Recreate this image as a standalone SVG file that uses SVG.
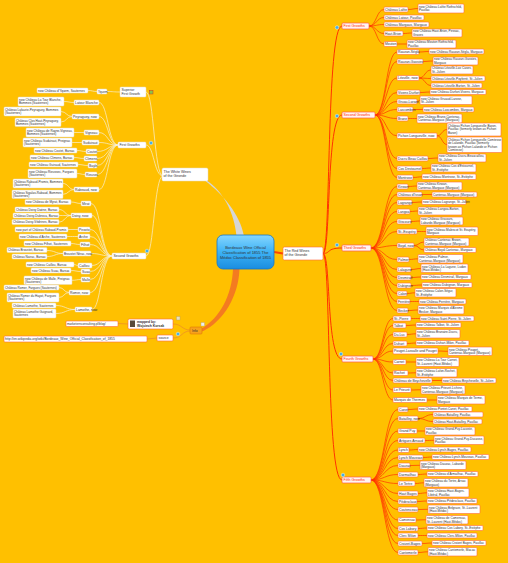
<svg xmlns="http://www.w3.org/2000/svg" width="508" height="563" viewBox="0 0 508 563">
<defs>
<linearGradient id="gb" x1="0" y1="0" x2="0" y2="1"><stop offset="0" stop-color="#86d6ff"/><stop offset="0.5" stop-color="#3db2f5"/><stop offset="1" stop-color="#1a8de0"/></linearGradient>
<style>
text{font-family:"Liberation Sans",Arial,sans-serif;fill:#333}
.ri{fill:#fff;stroke:#ff6a3d;stroke-width:.6}
.rk{fill:#fff5f3;stroke:#ff5a4a;stroke-width:.7}
.wi{fill:#fff;stroke:#e4d8bd;stroke-width:.5}
.ti{font-size:3.4px}
.tc{font-size:3.1px}
.tk{font-size:3.6px;fill:#ff2a00}
.tw{font-size:3.6px}
.cr{fill:none;stroke:#ff3300;stroke-width:.7}
.ct{fill:none;stroke:#ff3300;stroke-width:1}
.cw{fill:none;stroke:#f8efd6;stroke-width:.7}
.co{fill:none;stroke:#f39a1e;stroke-width:1}
.dot{fill:#45b0ea;stroke:#fff;stroke-width:.4}
</style>
</defs>
<rect width="508" height="563" fill="#ffc000"/>

<g id="connectors">
<path d="M236.5,236 C234.5,214 224,191 205,179.5 L206,181.5 C222,193.5 240,214 244,236 Z" fill="#d6d6d6"/>
<path d="M233,269 C232,295 220,318 201,329 L202.5,331.5 C224,321 238.5,296 239.5,269 Z" fill="#f47b20"/>
<path d="M274,252 L283,253.5" fill="none" stroke="#ff4500" stroke-width="2"/>
<path class="co" d="M190,330 C182,330 182,324 173,324"/>
<path class="co" d="M190,331 C182,331 182,338 173,338"/>
<path class="co" d="M157,338 L147,339"/>
<path class="co" d="M128,324 L118,323.5"/>
<path class="ct" d="M323,253.5 C331,253.5 326,26 342,26"/>
<path class="ct" d="M323,253.5 C331,253.5 326,115 342,115"/>
<path class="ct" d="M323,253.5 C331,253.5 326,248 342,248"/>
<path class="ct" d="M323,253.5 C331,253.5 326,359 342,359"/>
<path class="ct" d="M323,253.5 C331,253.5 326,480 342,480"/>
<path class="cr" d="M369,26 C376.5,26 376.5,9.5 384,9.5 M369,26 C376.5,26 376.5,17.5 384,17.5 M369,26 C376.5,26 376.5,24.5 384,24.5 M369,26 C376.5,26 376.5,33.5 384,33.5 M369,26 C376.5,26 376.5,44 384,44"/>
<path class="cr" d="M408,9.5 C413,9.5 413,8.5 418,8.5 M403,33.5 C407.5,33.5 407.5,33 412,33 M397,44 C402,44 402,44 407,44"/>
<path class="cr" d="M375,115 C386,115 386,52 397,52 M375,115 C386,115 386,61.5 397,61.5 M375,115 C386,115 386,78 397,78 M375,115 C386,115 386,92.5 397,92.5 M375,115 C386,115 386,101.5 397,101.5 M375,115 C386,115 386,109.5 397,109.5 M375,115 C386,115 386,118.5 397,118.5 M375,115 C386,115 386,135.8 397,135.8 M375,115 C386,115 386,158.5 397,158.5 M375,115 C386,115 386,168.5 397,168.5 M375,115 C386,115 386,177.5 397,177.5"/>
<path class="cr" d="M419,52 C424,52 424,51.5 429,51.5 M423,61.5 C428,61.5 428,61 433,61 M419,78 C425,78 425,70 431,70 M419,78 C425,78 425,78.5 431,78.5 M419,78 C425,78 425,85.5 431,85.5 M420,92.5 C425,92.5 425,92 430,92 M417,101.5 C418.5,101.5 418.5,100.3 420,100.3 M413,109.5 C418,109.5 418,109.5 423,109.5 M408,118.5 C412.5,118.5 412.5,118.5 417,118.5 M437,135.8 C442,135.8 442,129.5 447,129.5 M437,135.8 C442,135.8 442,144.5 447,144.5 M428,158.5 C433,158.5 433,158 438,158 M422,168.5 C426.5,168.5 426.5,168 431,168 M413,177.5 C417.5,177.5 417.5,176.8 422,176.8"/>
<path class="cr" d="M371,248 C384,248 384,186.5 397,186.5 M371,248 C384,248 384,194.5 397,194.5 M371,248 C384,248 384,202.5 397,202.5 M371,248 C384,248 384,211.5 397,211.5 M371,248 C384,248 384,221.5 397,221.5 M371,248 C384,248 384,231.5 397,231.5 M371,248 C384,248 384,245.5 397,245.5 M371,248 C384,248 384,259.5 397,259.5 M371,248 C384,248 384,269.5 397,269.5 M371,248 C384,248 384,277.5 397,277.5 M371,248 C384,248 384,285.5 397,285.5 M371,248 C384,248 384,293.5 397,293.5 M371,248 C384,248 384,301.5 397,301.5 M371,248 C384,248 384,310.5 397,310.5"/>
<path class="cr" d="M408,186.5 C412.5,186.5 412.5,186 417,186 M422,194.5 C427,194.5 427,194.5 432,194.5 M412,202.5 C417,202.5 417,202 422,202 M410,211.5 C414,211.5 414,211 418,211 M411,221.5 C415.5,221.5 415.5,221 420,221 M417,231.5 C421.5,231.5 421.5,231.5 426,231.5 M414,245.5 C419,245.5 419,242 424,242 M414,245.5 C419,245.5 419,250 424,250 M409,259.5 C413.5,259.5 413.5,258.8 418,258.8 M411,269.5 C416,269.5 416,268.5 421,268.5 M411,277.5 C416,277.5 416,277 421,277 M411,285.5 C416.5,285.5 416.5,285 422,285 M407,293.5 C411,293.5 411,292.8 415,292.8 M410,301.5 C414.5,301.5 414.5,301.5 419,301.5 M408,310.5 C413,310.5 413,310 418,310"/>
<path class="cr" d="M373,359 C383,359 383,318.5 393,318.5 M373,359 C383,359 383,325.5 393,325.5 M373,359 C383,359 383,334.5 393,334.5 M373,359 C383,359 383,343.5 393,343.5 M373,359 C383,359 383,351 393,351 M373,359 C383,359 383,362 393,362 M373,359 C383,359 383,373 393,373 M373,359 C383,359 383,380.5 393,380.5 M373,359 C383,359 383,390 393,390 M373,359 C383,359 383,400 393,400"/>
<path class="cr" d="M411,318.5 C415.5,318.5 415.5,318.5 420,318.5 M406,325.5 C411,325.5 411,325 416,325 M407,334.5 C411.5,334.5 411.5,333.8 416,333.8 M407,343.5 C411.5,343.5 411.5,343 416,343 M438,351 C443,351 443,351.3 448,351.3 M406,362 C411,362 411,362 416,362 M408,373 C412,373 412,372.8 416,372.8 M432,380.5 C437,380.5 437,380.5 442,380.5 M411,390 C416,390 416,389.8 421,389.8 M427,400 C432,400 432,400 437,400"/>
<path class="cr" d="M371,480 C384.5,480 384.5,409.5 398,409.5 M371,480 C384.5,480 384.5,418.5 398,418.5 M371,480 C384.5,480 384.5,431 398,431 M371,480 C384.5,480 384.5,440.5 398,440.5 M371,480 C384.5,480 384.5,450 398,450 M371,480 C384.5,480 384.5,457.5 398,457.5 M371,480 C384.5,480 384.5,465.5 398,465.5 M371,480 C384.5,480 384.5,474.5 398,474.5 M371,480 C384.5,480 384.5,483.5 398,483.5 M371,480 C384.5,480 384.5,493.5 398,493.5 M371,480 C384.5,480 384.5,501.5 398,501.5 M371,480 C384.5,480 384.5,509.5 398,509.5 M371,480 C384.5,480 384.5,520 398,520 M371,480 C384.5,480 384.5,528.5 398,528.5 M371,480 C384.5,480 384.5,535.5 398,535.5 M371,480 C384.5,480 384.5,543.5 398,543.5 M371,480 C384.5,480 384.5,552.5 398,552.5"/>
<path class="cr" d="M408,409.5 C413,409.5 413,409 418,409 M418,418.5 C425.5,418.5 425.5,414.5 433,414.5 M418,418.5 C425.5,418.5 425.5,421.5 433,421.5 M417,431 C421,431 421,431 425,431 M425,440.5 C429.5,440.5 429.5,440.3 434,440.3 M409,450 C413.5,450 413.5,449.5 418,449.5 M423,457.5 C427.5,457.5 427.5,457 432,457 M410,465.5 C415,465.5 415,465.3 420,465.3 M418,474.5 C422.5,474.5 422.5,474 427,474 M415,483.5 C419.5,483.5 419.5,482.8 424,482.8 M418,493.5 C422.5,493.5 422.5,492.8 427,492.8 M417,501.5 C422,501.5 422,501 427,501 M418,509.5 C423,509.5 423,509.3 428,509.3 M416,520 C421,520 421,519.8 426,519.8 M418,528.5 C422.5,528.5 422.5,528 427,528 M418,535.5 C422.5,535.5 422.5,535.5 427,535.5 M422,543.5 C427,543.5 427,543 432,543 M418,552.5 C423,552.5 423,551.8 428,551.8"/>
<path class="cw" d="M163,176 C154,176 154,92 146,92 M163,176 C154,176 154,145 146,145 M163,176 C154,176 154,256 146,256"/>
<path class="cw" d="M120,92 C113.5,92 113.5,91.5 107,91.5 M97,91.5 C92.5,91.5 92.5,90.5 88,90.5"/>
<path class="cw" d="M118,145 C108,145 108,102.5 99,102.5 M118,145 C108,145 108,116.5 99,116.5 M118,145 C108,145 108,132.5 99,132.5 M118,145 C108,145 108,142.5 99,142.5 M118,145 C108,145 108,151.5 97,151.5 M118,145 C108,145 108,158.5 97,158.5 M118,145 C108,145 108,165.5 97,165.5 M118,145 C108,145 108,174.5 97,174.5 M118,145 C108,145 108,189.5 99,189.5"/>
<path class="cw" d="M74,102.5 C69,102.5 69,101.5 64,101.5 M72,116.5 C66.5,116.5 66.5,111.5 61,111.5 M72,116.5 C66.5,116.5 66.5,122 61,122 M84,132.5 C79,132.5 79,132.5 74,132.5 M82,142.5 C77,142.5 77,142.5 72,142.5 M86,151.5 C81.5,151.5 81.5,150.5 77,150.5 M84,158.5 C79,158.5 79,157.5 74,157.5 M88,165.5 C83,165.5 83,164.5 78,164.5 M85,174.5 C81,174.5 81,173.5 77,173.5 M74,189.5 C68.5,189.5 68.5,183.5 63,183.5 M74,189.5 C68.5,189.5 68.5,194.3 63,194.3"/>
<path class="cw" d="M112,256 C101,256 101,203.5 91,203.5 M112,256 C101,256 101,215.5 92,215.5 M112,256 C101,256 101,229.5 90,229.5 M112,256 C101,256 101,236.5 90,236.5 M112,256 C101,256 101,244.5 90,244.5 M112,256 C101,256 101,253.5 91,253.5 M112,256 C101,256 101,265.5 92,265.5 M112,256 C101,256 101,271.5 90,271.5 M112,256 C101,256 101,279.5 90,279.5 M112,256 C101,256 101,292.5 90,292.5 M112,256 C101,256 101,309.5 92,309.5"/>
<path class="cw" d="M81,203.5 C76,203.5 76,202 71,202 M71,215.5 C65,215.5 65,209.5 59,209.5 M71,215.5 C65,215.5 65,215.5 59,215.5 M71,215.5 C65,215.5 65,222 59,222 M78,229.5 C73,229.5 73,229.5 68,229.5 M78,236.5 C72.5,236.5 72.5,236.5 67,236.5 M80,244.5 C75.5,244.5 75.5,243.5 71,243.5 M63,253.5 C55,253.5 55,250.5 47,250.5 M63,253.5 C55,253.5 55,256.5 47,256.5 M78,265.5 C76,265.5 76,264.5 74,264.5 M81,271.5 C76,271.5 76,270.5 71,270.5 M81,279.5 C76.5,279.5 76.5,280.3 72,280.3 M69,292.5 C64,292.5 64,287.5 59,287.5 M69,292.5 C64,292.5 64,297.5 59,297.5 M75,309.5 C65.5,309.5 65.5,305.5 56,305.5 M75,309.5 C65.5,309.5 65.5,313.5 56,313.5"/>
</g>

<g id="root"><rect x="217" y="235" width="57" height="34" rx="6" fill="url(#gb)" stroke="#1577c8" stroke-width=".8"/>
<text x="245.5" y="249" font-size="4" text-anchor="middle">Bordeaux Wine Official<tspan x="245.5" dy="5">Classification of 1855 The</tspan><tspan x="245.5" dy="5">Médoc Classification of 1855</tspan></text></g>
<g id="red"><rect class="ri" x="283" y="247" width="40" height="13" rx="1.5" stroke-width=".8"/><text class="tw" x="284.5" y="252">The Red Wines<tspan x="284.5" dy="4.3">of the Gironde</tspan></text></g>
<g id="white"><rect class="wi" x="162" y="168" width="46" height="13" rx="1.5"/><text class="tw" x="163.5" y="173">The White Wines<tspan x="163.5" dy="4.3">of the Gironde</tspan></text></g>

<g id="info"><rect x="190" y="327" width="12" height="7" rx="1" fill="#f7a21b" stroke="#e07b00" stroke-width=".6"/><text x="192" y="331.8" font-size="3.4">Info</text>
<rect x="201" y="322.5" width="3.5" height="3.5" fill="#eee" stroke="#b9a26a" stroke-width=".4"/></g>
<g id="mapped"><rect class="ri" x="128" y="319" width="45" height="10" rx="1.5"/><rect x="130" y="320.5" width="5" height="6.5" fill="#5a4a3a"/>
<text x="137" y="323.3" font-size="3.4" font-weight="bold">mapped by:<tspan x="137" dy="4">Wojciech Korsak</tspan></text>
<rect x="176.5" y="316.5" width="3.5" height="3.5" fill="#e8e0c0" stroke="#b9a26a" stroke-width=".4"/></g>
<g id="link"><rect class="ri" x="66" y="321" width="52" height="5.5" rx="1"/><text class="tc" x="67" y="324.8">marketernconsulting.pl/blog/</text></g>
<g id="source"><rect class="ri" x="157" y="335" width="16" height="6" rx="1"/><text class="ti" x="158.5" y="339.2">source</text><circle class="dot" cx="178" cy="334" r="1.8"/></g>
<g id="url"><rect class="ri" x="4" y="336" width="143" height="6" rx="1"/><text x="5" y="340.2" font-size="3.3">http://en.wikipedia.org/wiki/Bordeaux_Wine_Official_Classification_of_1855</text></g>

<g id="r1"><rect class="rk" x="342" y="23" width="27" height="6" rx="1"/><text class="tk" x="343.5" y="27.3">First Growths</text><circle class="dot" cx="337" cy="27.5" r="1.8"/></g>
<g id="r2"><rect class="rk" x="342" y="112" width="33" height="6" rx="1"/><text class="tk" x="343.5" y="116.3">Second Growths</text><circle class="dot" cx="337" cy="116" r="1.8"/></g>
<g id="r3"><rect class="rk" x="342" y="245" width="29" height="6" rx="1"/><text class="tk" x="343.5" y="249.3">Third Growths</text><circle class="dot" cx="337" cy="245" r="1.8"/></g>
<g id="r4"><rect class="rk" x="342" y="356" width="31" height="6" rx="1"/><text class="tk" x="343.5" y="360.3">Fourth Growths</text><circle class="dot" cx="341" cy="354" r="1.8"/></g>
<g id="r5"><rect class="rk" x="342" y="477" width="29" height="6" rx="1"/><text class="tk" x="343.5" y="481.3">Fifth Growths</text><circle class="dot" cx="343" cy="475" r="1.8"/></g>

<g id="r1a"><rect class="ri" x="384" y="7" width="24" height="5" rx="1"/><text class="ti" x="385" y="10.7">Château Lafite</text></g>
<g id="r1a1"><rect class="ri" x="418" y="4" width="46" height="9" rx="1"/><text class="tc" x="419" y="7.6">now Château Lafite Rothschild,<tspan x="419" dy="3.6">Pauillac</tspan></text></g>
<g id="r1b"><rect class="ri" x="384" y="15" width="40" height="5" rx="1"/><text class="ti" x="385" y="18.7">Château Latour, Pauillac</text></g>
<g id="r1c"><rect class="ri" x="384" y="22" width="45" height="5" rx="1"/><text class="ti" x="385" y="25.7">Château Margaux, Margaux</text></g>
<g id="r1d"><rect class="ri" x="384" y="31" width="19" height="5" rx="1"/><text class="ti" x="385" y="34.7">Haut-Brion</text></g>
<g id="r1d1"><rect class="ri" x="412" y="29" width="50" height="8" rx="1"/><text class="tc" x="413" y="32.4">now Château Haut-Brion, Pessac,<tspan x="413" dy="3.6">Graves</tspan></text></g>
<g id="r1e"><rect class="ri" x="384" y="41.5" width="13" height="5" rx="1"/><text class="ti" x="385" y="45.2">Mouton</text></g>
<g id="r1e1"><rect class="ri" x="407" y="40" width="49" height="8" rx="1"/><text class="tc" x="408" y="43.4">now Château Mouton Rothschild,<tspan x="408" dy="3.6">Pauillac</tspan></text></g>

<g id="r2a"><rect class="ri" x="397" y="49.5" width="22" height="5" rx="1"/><text class="ti" x="398" y="53.2">Rauzan-Ségla</text></g>
<g id="r2a1"><rect class="ri" x="429" y="49" width="55" height="5" rx="1"/><text class="tc" x="430" y="52.5">now Château Rauzan-Ségla, Margaux</text></g>
<g id="r2b"><rect class="ri" x="397" y="59" width="26" height="5" rx="1"/><text class="ti" x="398" y="62.7">Rauzan-Gassies</text></g>
<g id="r2b1"><rect class="ri" x="433" y="57" width="45" height="8" rx="1"/><text class="tc" x="434" y="60.4">now Château Rauzan-Gassies,<tspan x="434" dy="3.6">Margaux</tspan></text></g>
<g id="r2c"><rect class="ri" x="397" y="75.5" width="22" height="5" rx="1"/><text class="ti" x="398" y="79.2">Léoville, now</text></g>
<g id="r2c1"><rect class="ri" x="431" y="66" width="42" height="8" rx="1"/><text class="tc" x="432" y="69.4">Château Léoville-Las Cases,<tspan x="432" dy="3.6">St.-Julien</tspan></text></g>
<g id="r2c2"><rect class="ri" x="431" y="76" width="54" height="5" rx="1"/><text class="tc" x="432" y="79.5">Château Léoville-Poyferré, St.-Julien</text></g>
<g id="r2c3"><rect class="ri" x="431" y="83" width="51" height="5" rx="1"/><text class="tc" x="432" y="86.5">Château Léoville-Barton, St.-Julien</text></g>
<g id="r2d"><rect class="ri" x="397" y="90" width="23" height="5" rx="1"/><text class="ti" x="398" y="93.7">Vivens Durfort</text></g>
<g id="r2d1"><rect class="ri" x="430" y="89.5" width="56" height="5" rx="1"/><text class="tc" x="431" y="93">now Château Durfort-Vivens, Margaux</text></g>
<g id="r2e"><rect class="ri" x="397" y="99" width="20" height="5" rx="1"/><text class="ti" x="398" y="102.7">Gruau-Laroze</text></g>
<g id="r2e1"><rect class="ri" x="420" y="96" width="52" height="8.5" rx="1"/><text class="tc" x="421" y="99.5">now Château Gruaud-Larose,<tspan x="421" dy="3.6">St.-Julien</tspan></text></g>
<g id="r2f"><rect class="ri" x="397" y="107" width="16" height="5" rx="1"/><text class="ti" x="398" y="110.7">Lascombes</text></g>
<g id="r2f1"><rect class="ri" x="423" y="107" width="51" height="5" rx="1"/><text class="tc" x="424" y="110.5">now Château Lascombes, Margaux</text></g>
<g id="r2g"><rect class="ri" x="397" y="116" width="11" height="5" rx="1"/><text class="ti" x="398" y="119.7">Brane</text></g>
<g id="r2g1"><rect class="ri" x="417" y="114" width="45" height="9" rx="1"/><text class="tc" x="418" y="117.6">now Château Brane-Cantenac,<tspan x="418" dy="3.6">Cantenac-Margaux (Margaux)</tspan></text></g>
<g id="r2h"><rect class="ri" x="397" y="133" width="40" height="5.5" rx="1"/><text class="ti" x="398" y="137">Pichon Longueville, now</text></g>
<g id="r2h1"><rect class="ri" x="447" y="123" width="54" height="13" rx="1"/><text class="tc" x="448" y="126.6">Château Pichon Longueville Baron,<tspan x="448" dy="3.6">Pauillac (formerly known as Pichon</tspan><tspan x="448" dy="3.6">Baron)</tspan></text></g>
<g id="r2h2"><rect class="ri" x="447" y="137" width="55" height="15.5" rx="1"/><text class="tc" x="448" y="140.6">Château Pichon Longueville Comtesse<tspan x="448" dy="3.6">de Lalande, Pauillac (formerly</tspan><tspan x="448" dy="3.6">known as Pichon Lalande or Pichon</tspan><tspan x="448" dy="3.6">Comtesse)</tspan></text></g>
<g id="r2i"><rect class="ri" x="397" y="156" width="31" height="5" rx="1"/><text class="ti" x="398" y="159.7">Ducru Beau Caillou</text></g>
<g id="r2i1"><rect class="ri" x="438" y="154" width="48" height="8" rx="1"/><text class="tc" x="439" y="157.4">now Château Ducru-Beaucaillou,<tspan x="439" dy="3.6">St.-Julien</tspan></text></g>
<g id="r2j"><rect class="ri" x="397" y="166" width="25" height="5" rx="1"/><text class="ti" x="398" y="169.7">Cos Destournel</text></g>
<g id="r2j1"><rect class="ri" x="431" y="164" width="45" height="8" rx="1"/><text class="tc" x="432" y="167.4">now Château Cos d'Estournel,<tspan x="432" dy="3.6">St.-Estèphe</tspan></text></g>
<g id="r2k"><rect class="ri" x="397" y="175" width="16" height="5" rx="1"/><text class="ti" x="398" y="178.7">Montrose</text></g>
<g id="r2k1"><rect class="ri" x="422" y="174" width="54" height="5.5" rx="1"/><text class="tc" x="423" y="177.7">now Château Montrose, St.-Estèphe</text></g>

<g id="r3a"><rect class="ri" x="397" y="184" width="11" height="5" rx="1"/><text class="ti" x="398" y="187.7">Kirwan</text></g>
<g id="r3a1"><rect class="ri" x="417" y="182" width="45" height="8" rx="1"/><text class="tc" x="418" y="185.4">now Château Kirwan,<tspan x="418" dy="3.6">Cantenac-Margaux (Margaux)</tspan></text></g>
<g id="r3b"><rect class="ri" x="397" y="192" width="25" height="5" rx="1"/><text class="ti" x="398" y="195.7">Château d'Issan</text></g>
<g id="r3b1"><rect class="ri" x="432" y="192" width="45" height="5" rx="1"/><text class="tc" x="433" y="195.5">Cantenac-Margaux (Margaux)</text></g>
<g id="r3c"><rect class="ri" x="397" y="200" width="15" height="5" rx="1"/><text class="ti" x="398" y="203.7">Lagrange</text></g>
<g id="r3c1"><rect class="ri" x="422" y="199.5" width="44" height="5" rx="1"/><text class="tc" x="423" y="203">now Château Lagrange, St.-Julien</text></g>
<g id="r3d"><rect class="ri" x="397" y="209" width="13" height="5" rx="1"/><text class="ti" x="398" y="212.7">Langoa</text></g>
<g id="r3d1"><rect class="ri" x="418" y="207" width="44" height="8" rx="1"/><text class="tc" x="419" y="210.4">now Château Langoa-Barton,<tspan x="419" dy="3.6">St.-Julien</tspan></text></g>
<g id="r3e"><rect class="ri" x="397" y="219" width="14" height="5" rx="1"/><text class="ti" x="398" y="222.7">Giscours</text></g>
<g id="r3e1"><rect class="ri" x="420" y="217" width="43" height="8" rx="1"/><text class="tc" x="421" y="220.4">now Château Giscours,<tspan x="421" dy="3.6">Labarde-Margaux (Margaux)</tspan></text></g>
<g id="r3f"><rect class="ri" x="397" y="229" width="20" height="5" rx="1"/><text class="ti" x="398" y="232.7">St.-Exupéry</text></g>
<g id="r3f1"><rect class="ri" x="426" y="227" width="52" height="8.5" rx="1"/><text class="tc" x="427" y="230.5">now Château Malescot St. Exupéry,<tspan x="427" dy="3.6">Margaux</tspan></text></g>
<g id="r3g"><rect class="ri" x="397" y="243" width="17" height="5" rx="1"/><text class="ti" x="398" y="246.7">Boyd, now</text></g>
<g id="r3g1"><rect class="ri" x="424" y="238" width="45" height="8" rx="1"/><text class="tc" x="425" y="241.4">Château Cantenac Brown,<tspan x="425" dy="3.6">Cantenac-Margaux (Margaux)</tspan></text></g>
<g id="r3g2"><rect class="ri" x="424" y="247.5" width="52" height="5" rx="1"/><text class="tc" x="425" y="251">Château Boyd-Cantenac, Margaux</text></g>
<g id="r3h"><rect class="ri" x="397" y="257" width="12" height="5" rx="1"/><text class="ti" x="398" y="260.7">Palmer</text></g>
<g id="r3h1"><rect class="ri" x="418" y="254.5" width="45" height="8.5" rx="1"/><text class="tc" x="419" y="258">now Château Palmer,<tspan x="419" dy="3.6">Cantenac-Margaux (Margaux)</tspan></text></g>
<g id="r3i"><rect class="ri" x="397" y="267" width="14" height="5" rx="1"/><text class="ti" x="398" y="270.7">Lalagune</text></g>
<g id="r3i1"><rect class="ri" x="421" y="264" width="47" height="8.5" rx="1"/><text class="tc" x="422" y="267.5">now Château La Lagune, Ludon<tspan x="422" dy="3.6">(Haut-Médoc)</tspan></text></g>
<g id="r3j"><rect class="ri" x="397" y="275" width="14" height="5" rx="1"/><text class="ti" x="398" y="278.7">Desmirail</text></g>
<g id="r3j1"><rect class="ri" x="421" y="274.5" width="50" height="5" rx="1"/><text class="tc" x="422" y="278">now Château Desmirail, Margaux</text></g>
<g id="r3k"><rect class="ri" x="397" y="283" width="14" height="5" rx="1"/><text class="ti" x="398" y="286.7">Dubignon</text></g>
<g id="r3k1"><rect class="ri" x="422" y="282.5" width="50" height="5" rx="1"/><text class="tc" x="423" y="286">now Château Dubignon, Margaux</text></g>
<g id="r3l"><rect class="ri" x="397" y="291" width="10" height="5" rx="1"/><text class="ti" x="398" y="294.7">Calon</text></g>
<g id="r3l1"><rect class="ri" x="415" y="288.5" width="41" height="8.5" rx="1"/><text class="tc" x="416" y="292">now Château Calon-Ségur,<tspan x="416" dy="3.6">St.-Estèphe</tspan></text></g>
<g id="r3m"><rect class="ri" x="397" y="299" width="13" height="5" rx="1"/><text class="ti" x="398" y="302.7">Ferrière</text></g>
<g id="r3m1"><rect class="ri" x="419" y="299" width="47" height="5" rx="1"/><text class="tc" x="420" y="302.5">now Château Ferrière, Margaux</text></g>
<g id="r3n"><rect class="ri" x="397" y="308" width="11" height="5" rx="1"/><text class="ti" x="398" y="311.7">Becker</text></g>
<g id="r3n1"><rect class="ri" x="418" y="305.5" width="46" height="8.5" rx="1"/><text class="tc" x="419" y="309">now Château Marquis d'Alesme<tspan x="419" dy="3.6">Becker, Margaux</tspan></text></g>

<g id="r4a"><rect class="ri" x="393" y="316" width="18" height="5" rx="1"/><text class="ti" x="394" y="319.7">St.-Pierre</text></g>
<g id="r4a1"><rect class="ri" x="420" y="316" width="54" height="5" rx="1"/><text class="tc" x="421" y="319.5">now Château Saint-Pierre, St.-Julien</text></g>
<g id="r4b"><rect class="ri" x="393" y="323" width="13" height="5" rx="1"/><text class="ti" x="394" y="326.7">Talbot</text></g>
<g id="r4b1"><rect class="ri" x="416" y="322.5" width="45" height="5" rx="1"/><text class="tc" x="417" y="326">now Château Talbot, St.-Julien</text></g>
<g id="r4c"><rect class="ri" x="393" y="332" width="14" height="5" rx="1"/><text class="ti" x="394" y="335.7">Du-Luc</text></g>
<g id="r4c1"><rect class="ri" x="416" y="329.5" width="44" height="8.5" rx="1"/><text class="tc" x="417" y="333">now Château Branaire-Ducru,<tspan x="417" dy="3.6">St.-Julien</tspan></text></g>
<g id="r4d"><rect class="ri" x="393" y="341" width="14" height="5" rx="1"/><text class="ti" x="394" y="344.7">Duhart</text></g>
<g id="r4d1"><rect class="ri" x="416" y="340.5" width="53" height="5" rx="1"/><text class="tc" x="417" y="344">now Château Duhart-Milon, Pauillac</text></g>
<g id="r4e"><rect class="ri" x="393" y="348" width="45" height="6" rx="1"/><text class="ti" x="394" y="352.2">Pouget-Lassalle and Pouget</text></g>
<g id="r4e1"><rect class="ri" x="448" y="347" width="44" height="8.5" rx="1"/><text class="tc" x="449" y="350.5">now Château Pouget,<tspan x="449" dy="3.6">Cantenac-Margaux (Margaux)</tspan></text></g>
<g id="r4f"><rect class="ri" x="393" y="359.5" width="13" height="5" rx="1"/><text class="ti" x="394" y="363.2">Carnet</text></g>
<g id="r4f1"><rect class="ri" x="416" y="357.5" width="43" height="9" rx="1"/><text class="tc" x="417" y="361.1">now Château La Tour Carnet,<tspan x="417" dy="3.6">St.-Laurent (Haut-Médoc)</tspan></text></g>
<g id="r4g"><rect class="ri" x="393" y="370.5" width="15" height="5" rx="1"/><text class="ti" x="394" y="374.2">Rochet</text></g>
<g id="r4g1"><rect class="ri" x="416" y="368.5" width="41" height="8.5" rx="1"/><text class="tc" x="417" y="372">now Château Lafon-Rochet,<tspan x="417" dy="3.6">St.-Estèphe</tspan></text></g>
<g id="r4h"><rect class="ri" x="393" y="378" width="39" height="5" rx="1"/><text class="ti" x="394" y="381.7">Château de Beychevelle</text></g>
<g id="r4h1"><rect class="ri" x="442" y="378" width="54" height="5" rx="1"/><text class="tc" x="443" y="381.5">now Château Beychevelle, St.-Julien</text></g>
<g id="r4i"><rect class="ri" x="393" y="387.5" width="18" height="5" rx="1"/><text class="ti" x="394" y="391.2">Le Prieuré</text></g>
<g id="r4i1"><rect class="ri" x="421" y="385.5" width="44" height="8.5" rx="1"/><text class="tc" x="422" y="389">now Château Prieuré-Lichine,<tspan x="422" dy="3.6">Cantenac-Margaux (Margaux)</tspan></text></g>
<g id="r4j"><rect class="ri" x="393" y="397.5" width="34" height="5" rx="1"/><text class="ti" x="394" y="401.2">Marquis de Thermes</text></g>
<g id="r4j1"><rect class="ri" x="437" y="395.5" width="48" height="8.5" rx="1"/><text class="tc" x="438" y="399">now Château Marquis de Terme,<tspan x="438" dy="3.6">Margaux</tspan></text></g>

<g id="r5a"><rect class="ri" x="398" y="407" width="10" height="5" rx="1"/><text class="ti" x="399" y="410.7">Canet</text></g>
<g id="r5a1"><rect class="ri" x="418" y="406.5" width="54" height="5" rx="1"/><text class="tc" x="419" y="410">now Château Pontet-Canet, Pauillac</text></g>
<g id="r5b"><rect class="ri" x="398" y="416" width="20" height="5" rx="1"/><text class="ti" x="399" y="419.7">Batailley, now</text></g>
<g id="r5b1"><rect class="ri" x="433" y="412" width="50" height="5" rx="1"/><text class="tc" x="434" y="415.5">Château Batailley, Pauillac</text></g>
<g id="r5b2"><rect class="ri" x="433" y="419" width="49" height="5" rx="1"/><text class="tc" x="434" y="422.5">Château Haut-Batailley, Pauillac</text></g>
<g id="r5c"><rect class="ri" x="398" y="428.5" width="19" height="5" rx="1"/><text class="ti" x="399" y="432.2">Grand Puy</text></g>
<g id="r5c1"><rect class="ri" x="425" y="427" width="50" height="8" rx="1"/><text class="tc" x="426" y="430.4">now Château Grand-Puy-Lacoste,<tspan x="426" dy="3.6">Pauillac</tspan></text></g>
<g id="r5d"><rect class="ri" x="398" y="438" width="27" height="5" rx="1"/><text class="ti" x="399" y="441.7">Artigues Arnaud</text></g>
<g id="r5d1"><rect class="ri" x="434" y="436" width="50" height="8.5" rx="1"/><text class="tc" x="435" y="439.5">now Château Grand-Puy-Ducasse,<tspan x="435" dy="3.6">Pauillac</tspan></text></g>
<g id="r5e"><rect class="ri" x="398" y="447.5" width="11" height="5" rx="1"/><text class="ti" x="399" y="451.2">Lynch</text></g>
<g id="r5e1"><rect class="ri" x="418" y="447" width="53" height="5" rx="1"/><text class="tc" x="419" y="450.5">now Château Lynch-Bages, Pauillac</text></g>
<g id="r5f"><rect class="ri" x="398" y="455" width="25" height="5" rx="1"/><text class="ti" x="399" y="458.7">Lynch Moussas</text></g>
<g id="r5f1"><rect class="ri" x="432" y="454.5" width="57" height="5" rx="1"/><text class="tc" x="433" y="458">now Château Lynch-Moussas, Pauillac</text></g>
<g id="r5g"><rect class="ri" x="398" y="463" width="12" height="5" rx="1"/><text class="ti" x="399" y="466.7">Dauzac</text></g>
<g id="r5g1"><rect class="ri" x="420" y="461" width="46" height="8.5" rx="1"/><text class="tc" x="421" y="464.5">now Château Dauzac, Labarde<tspan x="421" dy="3.6">(Margaux)</tspan></text></g>
<g id="r5h"><rect class="ri" x="398" y="472" width="20" height="5" rx="1"/><text class="ti" x="399" y="475.7">Darmailhac</text></g>
<g id="r5h1"><rect class="ri" x="427" y="471.5" width="51" height="5" rx="1"/><text class="tc" x="428" y="475">now Château d'Armailhac, Pauillac</text></g>
<g id="r5i"><rect class="ri" x="398" y="481" width="17" height="5" rx="1"/><text class="ti" x="399" y="484.7">Le Tertre</text></g>
<g id="r5i1"><rect class="ri" x="424" y="478.5" width="44" height="8.5" rx="1"/><text class="tc" x="425" y="482">now Château du Tertre, Arsac<tspan x="425" dy="3.6">(Margaux)</tspan></text></g>
<g id="r5j"><rect class="ri" x="398" y="491" width="20" height="5" rx="1"/><text class="ti" x="399" y="494.7">Haut Bages</text></g>
<g id="r5j1"><rect class="ri" x="427" y="488.5" width="42" height="8.5" rx="1"/><text class="tc" x="428" y="492">now Château Haut-Bages-<tspan x="428" dy="3.6">Libéral, Pauillac</tspan></text></g>
<g id="r5k"><rect class="ri" x="398" y="499" width="19" height="5" rx="1"/><text class="ti" x="399" y="502.7">Pédesclaux</text></g>
<g id="r5k1"><rect class="ri" x="427" y="498.5" width="50" height="5" rx="1"/><text class="tc" x="428" y="502">now Château Pédesclaux, Pauillac</text></g>
<g id="r5l"><rect class="ri" x="398" y="507" width="20" height="5" rx="1"/><text class="ti" x="399" y="510.7">Coutenceau</text></g>
<g id="r5l1"><rect class="ri" x="428" y="505" width="52" height="8.5" rx="1"/><text class="tc" x="429" y="508.5">now Château Belgrave, St.-Laurent<tspan x="429" dy="3.6">(Haut-Médoc)</tspan></text></g>
<g id="r5m"><rect class="ri" x="398" y="517.5" width="18" height="5" rx="1"/><text class="ti" x="399" y="521.2">Camensac</text></g>
<g id="r5m1"><rect class="ri" x="426" y="515.5" width="42" height="8.5" rx="1"/><text class="tc" x="427" y="519">now Château de Camensac,<tspan x="427" dy="3.6">St.-Laurent (Haut-Médoc)</tspan></text></g>
<g id="r5n"><rect class="ri" x="398" y="526" width="20" height="5" rx="1"/><text class="ti" x="399" y="529.7">Cos Labory</text></g>
<g id="r5n1"><rect class="ri" x="427" y="525.5" width="56" height="5" rx="1"/><text class="tc" x="428" y="529">now Château Cos Labory, St.-Estèphe</text></g>
<g id="r5o"><rect class="ri" x="398" y="533" width="20" height="5" rx="1"/><text class="ti" x="399" y="536.7">Clerc Milon</text></g>
<g id="r5o1"><rect class="ri" x="427" y="533" width="50" height="5" rx="1"/><text class="tc" x="428" y="536.5">now Château Clerc-Milon, Pauillac</text></g>
<g id="r5p"><rect class="ri" x="398" y="541" width="24" height="5" rx="1"/><text class="ti" x="399" y="544.7">Croizet-Bages</text></g>
<g id="r5p1"><rect class="ri" x="432" y="540.5" width="54" height="5" rx="1"/><text class="tc" x="433" y="544">now Château Croizet Bages, Pauillac</text></g>
<g id="r5q"><rect class="ri" x="398" y="550" width="20" height="5" rx="1"/><text class="ti" x="399" y="553.7">Cantemerle</text></g>
<g id="r5q1"><rect class="ri" x="428" y="547.5" width="49" height="8.5" rx="1"/><text class="tc" x="429" y="551">now Château Cantemerle, Macau<tspan x="429" dy="3.6">(Haut-Médoc)</tspan></text></g>

<g id="w0"><rect class="wi" x="120" y="87" width="26" height="10" rx="1"/><text class="ti" x="121.5" y="91">Superior<tspan x="121.5" dy="4">First Growth</tspan></text>
<rect x="149.5" y="90.5" width="3.5" height="3.5" fill="#8bc34a" stroke="#c0392b" stroke-width=".5"/></g>
<g id="w1"><rect class="wi" x="118" y="142" width="28" height="6" rx="1"/><text class="ti" x="119.5" y="146.2">First Growths</text><circle class="dot" cx="151" cy="143" r="1.8"/></g>
<g id="w2"><rect class="wi" x="112" y="253" width="34" height="6" rx="1"/><text class="ti" x="113.5" y="257.2">Second Growths</text><circle class="dot" cx="147" cy="251" r="1.8"/></g>

<g id="w0a"><rect class="wi" x="97" y="89" width="10" height="5" rx="1"/><text class="tc" x="98" y="92.5">Yquem</text></g>
<g id="w0a1"><rect class="wi" x="37" y="88" width="51" height="5" rx="1"/><text class="tc" x="38" y="91.5">now Château d'Yquem, Sauternes</text></g>

<g id="w1a"><rect class="wi" x="74" y="100" width="25" height="5" rx="1"/><text class="ti" x="75" y="103.7">Latour Blanche</text></g>
<g id="w1a1"><rect class="wi" x="18" y="97" width="46" height="9" rx="1"/><text class="tc" x="19" y="100.6">now Château La Tour Blanche,<tspan x="19" dy="3.6">Bommes (Sauternes)</tspan></text></g>
<g id="w1b"><rect class="wi" x="72" y="114" width="27" height="5" rx="1"/><text class="ti" x="73" y="117.7">Peyraguey, now</text></g>
<g id="w1b1"><rect class="wi" x="4" y="107" width="57" height="9" rx="1"/><text class="tc" x="5" y="110.6">Château Lafaurie-Peyraguey, Bommes<tspan x="5" dy="3.6">(Sauternes)</tspan></text></g>
<g id="w1b2"><rect class="wi" x="15" y="118" width="46" height="8.5" rx="1"/><text class="tc" x="16" y="121.5">Château Clos Haut-Peyraguey,<tspan x="16" dy="3.6">Bommes (Sauternes)</tspan></text></g>
<g id="w1c"><rect class="wi" x="84" y="130" width="15" height="5" rx="1"/><text class="ti" x="85" y="133.7">Vigneau</text></g>
<g id="w1c1"><rect class="wi" x="26" y="128" width="48" height="9" rx="1"/><text class="tc" x="27" y="131.6">now Château de Rayne-Vigneau,<tspan x="27" dy="3.6">Bommes (Sauternes)</tspan></text></g>
<g id="w1d"><rect class="wi" x="82" y="140" width="17" height="5" rx="1"/><text class="ti" x="83" y="143.7">Suduiraut</text></g>
<g id="w1d1"><rect class="wi" x="23" y="138" width="49" height="9" rx="1"/><text class="tc" x="24" y="141.6">now Château Suduiraut, Preignac<tspan x="24" dy="3.6">(Sauternes)</tspan></text></g>
<g id="w1e"><rect class="wi" x="86" y="149" width="11" height="5" rx="1"/><text class="ti" x="87" y="152.7">Coutet</text></g>
<g id="w1e1"><rect class="wi" x="34" y="148" width="43" height="5" rx="1"/><text class="tc" x="35" y="151.5">now Château Coutet, Barsac</text></g>
<g id="w1f"><rect class="wi" x="84" y="156" width="13" height="5" rx="1"/><text class="ti" x="85" y="159.7">Climens</text></g>
<g id="w1f1"><rect class="wi" x="30" y="155" width="44" height="5" rx="1"/><text class="tc" x="31" y="158.5">now Château Climens, Barsac</text></g>
<g id="w1g"><rect class="wi" x="88" y="163" width="9" height="5" rx="1"/><text class="ti" x="89" y="166.7">Bayle</text></g>
<g id="w1g1"><rect class="wi" x="29" y="162" width="49" height="5" rx="1"/><text class="tc" x="30" y="165.5">now Château Guiraud, Sauternes</text></g>
<g id="w1h"><rect class="wi" x="85" y="172" width="12" height="5" rx="1"/><text class="ti" x="86" y="175.7">Rieusec</text></g>
<g id="w1h1"><rect class="wi" x="28" y="169" width="49" height="9" rx="1"/><text class="tc" x="29" y="172.6">now Château Rieussec, Fargues<tspan x="29" dy="3.6">(Sauternes)</tspan></text></g>
<g id="w1i"><rect class="wi" x="74" y="187" width="25" height="5" rx="1"/><text class="ti" x="75" y="190.7">Rabeaud, now</text></g>
<g id="w1i1"><rect class="wi" x="13" y="179" width="50" height="9" rx="1"/><text class="tc" x="14" y="182.6">Château Rabaud-Promis, Bommes<tspan x="14" dy="3.6">(Sauternes)</tspan></text></g>
<g id="w1i2"><rect class="wi" x="12" y="190" width="51" height="8.5" rx="1"/><text class="tc" x="13" y="193.5">Château Sigalas-Rabaud, Bommes<tspan x="13" dy="3.6">(Sauternes)</tspan></text></g>

<g id="w2a"><rect class="wi" x="81" y="201" width="10" height="5" rx="1"/><text class="ti" x="82" y="204.7">Mirat</text></g>
<g id="w2a1"><rect class="wi" x="25" y="199.5" width="46" height="5" rx="1"/><text class="tc" x="26" y="203">now Château de Myrat, Barsac</text></g>
<g id="w2b"><rect class="wi" x="71" y="213" width="21" height="5" rx="1"/><text class="ti" x="72" y="216.7">Doisy, now</text></g>
<g id="w2b1"><rect class="wi" x="15" y="207" width="44" height="5" rx="1"/><text class="tc" x="16" y="210.5">Château Doisy Daëne, Barsac</text></g>
<g id="w2b2"><rect class="wi" x="13" y="213" width="46" height="5" rx="1"/><text class="tc" x="14" y="216.5">Château Doisy-Dubroca, Barsac</text></g>
<g id="w2b3"><rect class="wi" x="12" y="219.5" width="47" height="5" rx="1"/><text class="tc" x="13" y="223">Château Doisy-Védrines, Barsac</text></g>
<g id="w2c"><rect class="wi" x="78" y="227" width="12" height="5" rx="1"/><text class="ti" x="79" y="230.7">Pexoto</text></g>
<g id="w2c1"><rect class="wi" x="15" y="227" width="53" height="5" rx="1"/><text class="tc" x="16" y="230.5">now part of Château Rabaud-Promis</text></g>
<g id="w2d"><rect class="wi" x="78" y="234" width="12" height="5" rx="1"/><text class="ti" x="79" y="237.7">Arche</text></g>
<g id="w2d1"><rect class="wi" x="19" y="234" width="48" height="5" rx="1"/><text class="tc" x="20" y="237.5">now Château d'Arche, Sauternes</text></g>
<g id="w2e"><rect class="wi" x="80" y="242" width="10" height="5" rx="1"/><text class="ti" x="81" y="245.7">Filhot</text></g>
<g id="w2e1"><rect class="wi" x="24" y="241" width="47" height="5" rx="1"/><text class="tc" x="25" y="244.5">now Château Filhot, Sauternes</text></g>
<g id="w2f"><rect class="wi" x="63" y="251" width="28" height="5" rx="1"/><text class="tc" x="64" y="254.5">Broustet Nérac, now</text></g>
<g id="w2f1"><rect class="wi" x="7" y="247.5" width="40" height="5" rx="1"/><text class="tc" x="8" y="251">Château Broustet, Barsac</text></g>
<g id="w2f2"><rect class="wi" x="12" y="254" width="35" height="5" rx="1"/><text class="tc" x="13" y="257.5">Château Nairac, Barsac</text></g>
<g id="w2g"><rect class="wi" x="78" y="263" width="14" height="5" rx="1"/><text class="ti" x="79" y="266.7">Caillou</text></g>
<g id="w2g1"><rect class="wi" x="26" y="262" width="48" height="5" rx="1"/><text class="tc" x="27" y="265.5">now Château Caillou, Barsac</text></g>
<g id="w2h"><rect class="wi" x="81" y="269" width="9" height="5" rx="1"/><text class="ti" x="82" y="272.7">Suau</text></g>
<g id="w2h1"><rect class="wi" x="31" y="268" width="40" height="5" rx="1"/><text class="tc" x="32" y="271.5">now Château Suau, Barsac</text></g>
<g id="w2i"><rect class="wi" x="81" y="277" width="9" height="5" rx="1"/><text class="ti" x="82" y="280.7">Malle</text></g>
<g id="w2i1"><rect class="wi" x="24" y="276" width="48" height="8.5" rx="1"/><text class="tc" x="25" y="279.5">now Château de Malle, Preignac<tspan x="25" dy="3.6">(Sauternes)</tspan></text></g>
<g id="w2j"><rect class="wi" x="69" y="290" width="21" height="5" rx="1"/><text class="ti" x="70" y="293.7">Romer, now</text></g>
<g id="w2j1"><rect class="wi" x="4" y="285" width="55" height="5" rx="1"/><text class="tc" x="5" y="288.5">Château Romer, Fargues (Sauternes)</text></g>
<g id="w2j2"><rect class="wi" x="7" y="293" width="52" height="9" rx="1"/><text class="tc" x="8" y="296.6">Château Romer du Hayot, Fargues<tspan x="8" dy="3.6">(Sauternes)</tspan></text></g>
<g id="w2k"><rect class="wi" x="75" y="307" width="17" height="5" rx="1"/><text class="ti" x="76" y="310.7">Lamothe, now</text></g>
<g id="w2k1"><rect class="wi" x="12" y="303" width="44" height="5" rx="1"/><text class="tc" x="13" y="306.5">Château Lamothe, Sauternes</text></g>
<g id="w2k2"><rect class="wi" x="13" y="309" width="43" height="9" rx="1"/><text class="tc" x="14" y="312.6">Château Lamothe Guignard,<tspan x="14" dy="3.6">Sauternes</tspan></text></g>
</svg>
